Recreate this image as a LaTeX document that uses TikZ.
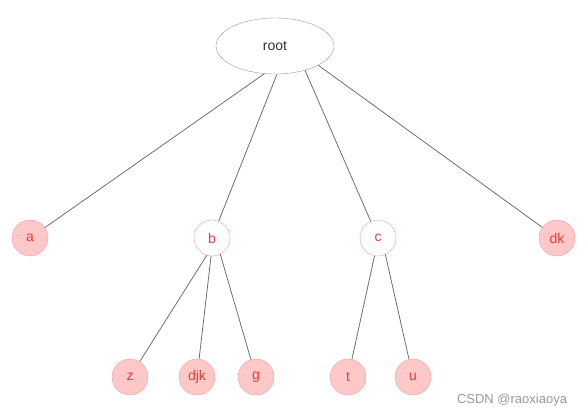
\documentclass[tikz,border=0pt]{standalone}
\usepackage{fontspec}
\setmainfont{Liberation Sans}
\usepackage{xcolor}
\definecolor{treePink}{HTML}{FFC8C8}
\definecolor{treePinkLine}{HTML}{F0A0A0}
\definecolor{treeRed}{HTML}{E53E3E}
\definecolor{treeGray}{HTML}{999999}
\definecolor{treeEdge}{HTML}{6E6E6E}
\usetikzlibrary{shapes.geometric}

\begin{document}
\begin{tikzpicture}[x=1pt, y=-1pt,
    leaf/.style={circle, draw=treePinkLine, fill=treePink, minimum size=36pt, inner sep=0pt, text=treeRed, font=\fontsize{14}{16}\selectfont},
    inner/.style={leaf, fill=white},
    top/.style={ellipse, draw=treeGray, fill=white, minimum width=118pt, minimum height=56pt, inner sep=0pt, text=black!80, font=\fontsize{14}{16}\selectfont},
    edge/.style={treeEdge, line width=0.8pt}
  ]
    \useasboundingbox (0,0) rectangle (588,418);
    \node[top] (root) at (275,46) {root};
    \node[leaf] (a) at (30,238) {a};
    \node[inner] (b) at (212,238) {b};
    \node[inner] (c) at (378,238) {c};
    \node[leaf] (dk) at (557,238) {dk};
    \node[leaf] (z) at (130,377) {z};
    \node[leaf] (djk) at (197,377) {djk};
    \node[leaf] (g) at (256,377) {g};
    \node[leaf] (t) at (348,377) {t};
    \node[leaf] (u) at (413,377) {u};
    \draw[edge] (root.249) -- (a);
    \draw[edge] (root.274) -- (b);
    \draw[edge] (root.321) -- (c);
    \draw[edge] (root.336) -- (dk);
    \draw[edge] (b.253) -- (z);
    \draw[edge] (b.267) -- (djk);
    \draw[edge] (b.297) -- (g);
    \draw[edge] (c.259) -- (t);
    \draw[edge] (c.294) -- (u);
    \node[text=treeGray, font=\fontsize{13}{15}\selectfont] (mark) at (512,400) {CSDN @raoxiaoya};
  \end{tikzpicture}
\end{document}
